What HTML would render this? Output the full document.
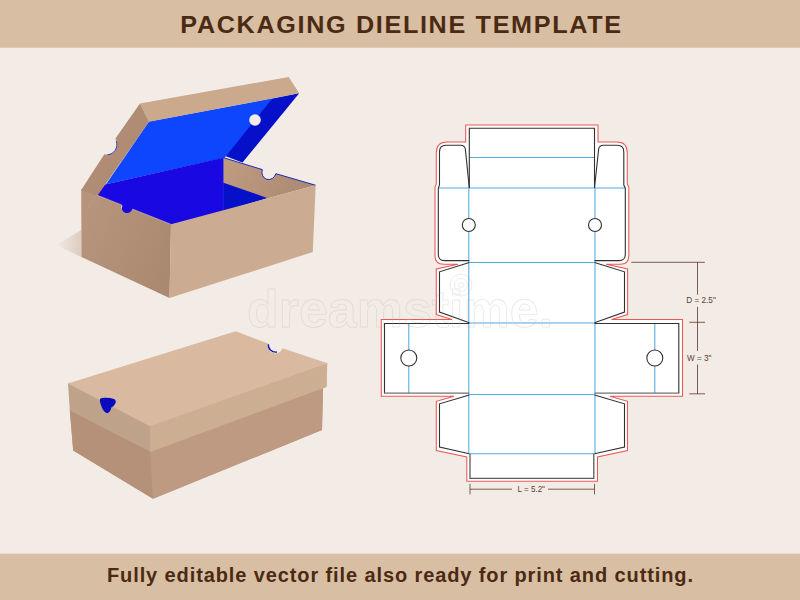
<!DOCTYPE html>
<html><head><meta charset="utf-8">
<style>
html,body{margin:0;padding:0;}
body{width:800px;height:600px;overflow:hidden;background:#f3ebe5;position:relative;font-family:"Liberation Sans",sans-serif;}
#hdr{position:absolute;left:0;top:0;width:800px;height:47px;background:#d8bea3;}
#ftr{position:absolute;left:0;top:554px;width:800px;height:46px;background:#d8bea3;}
#title{position:absolute;left:0;top:11px;width:800px;text-align:center;font-weight:bold;font-size:23.3px;line-height:28px;color:#4b2a14;letter-spacing:1.55px;white-space:nowrap;text-indent:2.8px;transform:scaleX(1.08);transform-origin:400px 0;}
#foot{position:absolute;left:0;top:561px;width:800px;text-align:center;font-weight:bold;font-size:20px;line-height:28px;color:#4b2a14;letter-spacing:0.89px;white-space:nowrap;text-indent:0.89px;}
svg{position:absolute;left:0;top:0;}
</style></head><body>
<svg width="800" height="600" viewBox="0 0 800 600"><rect x="0" y="0" width="800" height="47.7" fill="#d8bea3"/><rect x="0" y="553.6" width="800" height="46.4" fill="#d8bea3"/></svg>
<div id="title">PACKAGING DIELINE TEMPLATE</div>
<div id="foot">Fully editable vector file also ready for print and cutting.</div>
<svg width="800" height="600" viewBox="0 0 800 600">
<defs>
<linearGradient id="sh" x1="0" y1="0" x2="1" y2="0">
<stop offset="0" stop-color="#c9b3a2" stop-opacity="0"/>
<stop offset="1" stop-color="#cdb8a8" stop-opacity="0.6"/>
</linearGradient>
<linearGradient id="rw" x1="0" y1="0" x2="1" y2="0.3">
<stop offset="0" stop-color="#bf9c81"/><stop offset="1" stop-color="#ad8a72"/>
</linearGradient>
<linearGradient id="fl" gradientUnits="userSpaceOnUse" x1="81" y1="220" x2="171" y2="260">
<stop offset="0" stop-color="#b7947c"/><stop offset="1" stop-color="#ab8870"/>
</linearGradient>
</defs>
<!-- OPEN BOX -->
<g id="openbox">
<!-- shadow -->
<polygon points="56,245 81.5,230 81.5,257.2" fill="url(#sh)"/>
<!-- lid inside (blue) -->
<polygon points="149,121.5 299.2,93.3 224,158 106,184.3" fill="#0d46fd"/>
<!-- lid dark strip -->
<polygon points="271.7,99.3 299.2,93.3 242.5,162.5 225.8,156.3" fill="#0510c8"/>
<!-- lid top rim -->
<polygon points="140,103.5 288.7,77 299.2,93.3 149,121.8" fill="#caa98c"/>
<!-- interior back wall -->
<polygon points="105,184.5 224.5,157.5 224.5,212 171,225 96.5,195.5" fill="#1a08e3"/>
<!-- floor dark -->
<polygon points="223.5,181 268.5,197.8 223.5,211.5" fill="#0510c8"/>
<!-- thin light line -->
<path d="M223.3,158 V211" stroke="#2433e6" stroke-width="0.6" fill="none"/>
<!-- right inner wall tan -->
<path d="M223.5,157.7 L262.3,169.6 A7,7.9 17 0 0 275.9,173.7 L315.7,185.3 L267.8,198.2 L223.5,182.7 Z" fill="url(#rw)"/>
<path d="M223.5,157.7 L262.3,169.6 A7,7.9 17 0 0 275.9,173.7 L315.7,185.3" stroke="#1a2ab4" stroke-width="1" fill="none"/>
<!-- notch blue circle (front-left) -->
<circle cx="127.2" cy="208.8" r="5.5" fill="#1a08e3"/>
<!-- front-left face -->
<path d="M81.2,189 L96.8,195 L121.9,205 A5.5,5.8 20 0 0 132.5,209.1 L171,224.3 L169.5,298 L81.5,257 Z" fill="url(#fl)"/>
<!-- lid left flap -->
<path d="M140,103.5 L149,121.8 L97.2,196 L81.2,190 L104.3,154.2 C108.5,155.3 113,154.3 115.5,150.5 C117.8,147 117.5,141.5 115.4,138.5 Z" fill="#b08c74"/>
<path d="M96.8,195.3 L88,207.5" stroke="#c2a58e" stroke-width="0.8" stroke-opacity="0.55" fill="none"/>
<path d="M97,195.1 L121.9,205 M132.5,209.1 L171,224.3" stroke="#d9c6b6" stroke-width="0.7" stroke-opacity="0.8" fill="none"/>
<path d="M108,154.9 C111,154.6 113.8,153.2 115.5,150.5 C117.4,147.6 117.5,144 116.6,141.2" stroke="#1c2cb8" stroke-width="0.9" fill="none" transform="translate(-0.3,-0.2)"/>
<!-- front-right face -->
<polygon points="171,224.3 315.7,185.3 312.8,252 169.5,298" fill="#cbac92"/>
<!-- lid hole -->
<circle cx="255" cy="120" r="5.8" fill="#f3ebe5"/>
</g>
<!-- CLOSED BOX -->
<g id="closedbox">
<polygon points="69.8,410 150,425.5 326.5,363.5 326.5,386 323,388.5 322,430 153,498.8 73.2,450.6" fill="#bd9a81"/>
<!-- body left -->
<polygon points="69.8,410 150.3,451.5 153,498.8 73.2,450.6" fill="#b5917a"/>
<!-- body right -->
<polygon points="150.3,451.5 323,388.5 322,430 153,498.8" fill="#bd9a81"/>
<!-- lid left side -->
<path d="M68,383 L150.5,425.5 L150.8,452 L69.8,410.5 Z" fill="#bea28a"/>
<!-- lid right side -->
<polygon points="150,425.5 327.3,362.8 326.5,387 150.3,452" fill="#ccae93"/>
<!-- lid top -->
<path d="M67.8,383.5 L235.6,331.3 L268.2,343.6 A7.4,7.4 0 0 0 282.6,348.2 L327.5,363.2 L150,426.3 Z" fill="#d9baa1"/>
<!-- notch blue left -->
<path d="M99.8,400 Q100,397.8 104,397.8 Q110,397.5 114,399 Q116.5,400.5 115.6,403 Q114,406.5 111.3,407.5 Q110.5,412 107.2,413.3 Q103,411.5 101.3,406 Q100,403 99.8,400 Z" fill="#0b0bbe"/>
<!-- right notch blue arc -->
<path d="M268.4,344.2 A7.2,7.2 0 0 0 277,352" fill="none" stroke="#1616b8" stroke-width="1.3"/>
</g>
<!-- DIELINE -->
<g id="dieline" fill="none" stroke-linejoin="miter">
<!-- white fill -->
<!-- red bleed outline -->
<path stroke="#ea5a55" stroke-width="1.05" fill="#ffffff" d="M465.7,125 H598 V142 H617 Q627.3,142 627.3,153 V184 L628.8,187 V256 Q628.8,264.2 620,264.2 L606,264.2 L627.6,268.9 V314.5 L611.5,319.5 H682.5 V396.3 H610 L627.5,401.3 V450.5 L597.5,457 V481.3 H466.8 V457 L436.3,450.5 V401.3 L454,396.3 H381.3 V319.5 H452 L436.3,314.5 V268.9 L458,264.2 L444,264.2 Q435,264.2 435,256 V187 L436.3,184 V153 Q436.3,142 447,142 H465.7 Z"/>
<!-- blue fold lines -->
<g stroke="#52aae3" stroke-width="1.05">
<path d="M469.3,157.5 H594.5 M438.5,188 H625.3 M469.3,262.5 H594.5 M469.3,322.9 H594.5 M469.3,394.5 H594.5 M469.3,453.7 H594.5"/>
<path d="M468.8,188 V218.5 M468.8,231.5 V453.7 M595,188 V218.5 M595,231.5 V453.7 M408.8,323.5 V350 M408.8,366 V393.3 M654.8,323.5 V350 M654.8,366 V393.3"/>
</g>
<!-- black cut lines -->
<g stroke="#303030" stroke-width="1.1">
<path d="M469.3,188 V128.3 H594.5 V188"/>
<path d="M469.3,188 L465.4,149.5 Q465,145.3 460.5,145.3 H446 Q439.5,145.3 439.5,152 V185 L438.3,188 V254.5 Q438.3,260.6 444.5,260.6 H469.3"/>
<path d="M594.5,188 L598.6,149.5 Q599,145.3 603.5,145.3 H617.5 Q623.8,145.3 623.8,152 V185 L625.3,188 V254.5 Q625.3,260.6 619,260.6 H594.5"/>
<path d="M469.3,262.5 L439.5,271.8 V312 L469.3,322.7"/>
<path d="M594.5,262.5 L624.5,271.8 V312 L594.5,322.7"/>
<path d="M469.3,323.5 H384.5 V393.3"/><path d="M384,393.1 H469.3" stroke="#707070" stroke-width="1.4"/>
<path d="M594.5,323.5 H678.8 V393.3"/><path d="M679.3,393.1 H594.5" stroke="#707070" stroke-width="1.4"/>
<path d="M469.3,395 L439.5,403.8 V447 L469.3,453.7"/>
<path d="M594.5,395 L624.5,403.8 V447 L594.5,453.7"/>
<path d="M470,453.7 V478.3 H593.8 V453.7" stroke="#5c5c5c" stroke-width="1.3"/>
<circle cx="468.8" cy="225" r="6.5"/>
<circle cx="595" cy="225" r="6.5"/>
<circle cx="408.8" cy="358" r="8"/>
<circle cx="654.8" cy="358" r="8"/>
</g>
<!-- dimension lines -->
<g stroke="#5a3a28" stroke-width="0.8">
<path d="M631.3,262.3 H704.8 M697.5,262.3 V294.7 M697.5,306.8 V351 M697.5,364.5 V393.8 M689.3,322.3 H705 M689.3,393.8 H705"/>
<path d="M470,483.8 V494.5 M594.5,483.8 V494.5 M470,489.2 H512 M548,489.2 H594.5"/>
</g>
</g>
<g font-family="Liberation Sans, sans-serif" font-size="8.6" fill="#5a4030">
<text x="686.3" y="303.3" textLength="29.5" lengthAdjust="spacingAndGlyphs">D = 2.5"</text>
<text x="687" y="360.8" textLength="24.3" lengthAdjust="spacingAndGlyphs">W = 3"</text>
<text x="517.6" y="491.7" textLength="27.4" lengthAdjust="spacingAndGlyphs">L = 5.2"</text>
</g>
<g id="wm" fill="none" stroke="#b9b0ab" stroke-width="0.9" opacity="0.26" font-family="Liberation Sans, sans-serif" font-weight="bold" font-size="52">
<text x="247" y="327" textLength="306" lengthAdjust="spacingAndGlyphs">dreamstime.</text>
<circle cx="461" cy="285" r="11"/><circle cx="461" cy="285" r="6.5"/><circle cx="461" cy="285" r="2.5"/>
</g>
</svg>
</body></html>
